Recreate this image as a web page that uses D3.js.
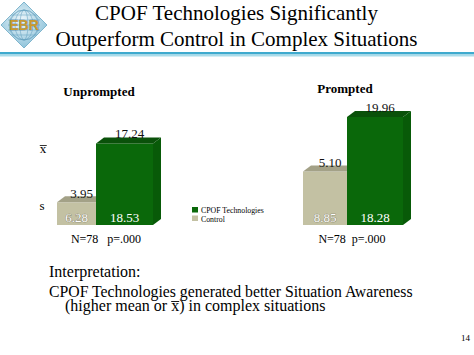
<!DOCTYPE html>
<html>
<head>
<meta charset="utf-8">
<script src="https://cdn.jsdelivr.net/npm/d3@7"></script>
<style>
html,body{margin:0;padding:0;background:#fff;}
svg{display:block;}
</style>
</head>
<body>
<svg id="chart" width="474" height="355" font-family="Liberation Serif"></svg>
<script>
// ---- data ----
const panels = ["Unprompted", "Prompted"];
const seriesNames = ["Control", "CPOF Technologies"];
const controlMean = [3.95, 5.10];
const cpofMean = [17.24, 19.96];
const controlSD = [6.28, 8.85];
const cpofSD = [18.53, 18.28];
// bar heights as drawn in the picture (chart units, estimated)
const controlPlotted = [4.2, 9.9];
const cpofPlotted = [15.1, 20.0];
const sampleN = [78, 78];
const pValue = [".000", ".000"];
const titleLines = ["CPOF Technologies Significantly", "Outperform Control in Complex Situations"];

// ---- layout ----
const SERIF = "Liberation Serif";
const svg = d3.select("#chart");
const W = 474;
const baseY = 225;
const y = d3.scaleLinear().domain([0, 20]).range([baseY, 117]);
const panelX = d3.scaleOrdinal().domain(panels).range([57, 303]);
const controlW = d3.scaleOrdinal().domain(panels).range([39, 44]);
const cpofW = d3.scaleOrdinal().domain(panels).range([57, 56]);
const color = d3.scaleOrdinal().domain(seriesNames).range(["#c3c1a3", "#0a680a"]);
const topColor = d3.scaleOrdinal().domain(seriesNames).range(["#a3a187", "#0a510a"]);
const sideColor = d3.scaleOrdinal().domain(seriesNames).range(["#9e9c82", "#085a08"]);
const DX = 8, DY = 6;

function txt(x, yy, size, s){
  return svg.append("text").attr("x", x).attr("y", yy).attr("font-family", SERIF)
    .attr("font-size", size).attr("fill", "#000").text(s);
}
function fitText(sel, target){
  const fs = parseFloat(sel.attr("font-size"));
  const w = sel.node().getComputedTextLength();
  sel.attr("font-size", (fs * target / w).toFixed(2));
}

// ---- logo ----
const defs = svg.append("defs");
const lg = defs.append("radialGradient").attr("id","globe").attr("cx","45%").attr("cy","40%").attr("r","60%");
lg.append("stop").attr("offset","0%").attr("stop-color","#eef7fb");
lg.append("stop").attr("offset","100%").attr("stop-color","#8fc3da");
const logo = svg.append("g");
const cx = 24, cy = 25, hr = 23;
const diamond = `M${cx},${cy-hr}L${cx+hr},${cy}L${cx},${cy+hr}L${cx-hr},${cy}Z`;
logo.append("path").attr("d", diamond).attr("fill","url(#globe)").attr("stroke","#6aa8c4").attr("stroke-width",0.8);
defs.append("clipPath").attr("id","dclip").append("path").attr("d", diamond);
const grid = logo.append("g").attr("clip-path","url(#dclip)").attr("fill","none").attr("stroke","#5e9dbd").attr("stroke-width",0.5);
grid.append("circle").attr("cx",cx).attr("cy",cy).attr("r",15);
[4,9,14].forEach(rx=>grid.append("ellipse").attr("cx",cx).attr("cy",cy).attr("rx",rx).attr("ry",15));
[-10,-5,0,5,10].forEach(d=>grid.append("line").attr("x1",cx-16).attr("x2",cx+16).attr("y1",cy+d).attr("y2",cy+d));
logo.append("text").attr("x", cx).attr("y", 30).attr("text-anchor","middle")
  .attr("font-family","Liberation Sans").attr("font-weight","bold").attr("font-size",14)
  .attr("fill","#c99a2e").attr("stroke","#3c7aa6").attr("stroke-width",0.5).attr("paint-order","stroke")
  .text("EBR");

// ---- title ----
const t1 = txt(236.5, 20, 21, titleLines[0]).attr("text-anchor","middle");
fitText(t1, 283);
const t2 = txt(236.5, 46, 21, titleLines[1]).attr("text-anchor","middle");
fitText(t2, 362);

// ---- rule under title ----
svg.append("rect").attr("x",0).attr("y",52).attr("width",W).attr("height",2.5).attr("fill","#3eaace");
svg.append("rect").attr("x",0).attr("y",54.5).attr("width",W).attr("height",2).attr("fill","#a9dcea");

// ---- bars ----
function bar3d(g, x0, x1, v, name){
  const yt = y(v), yb = y(0);
  g.append("path").attr("d", `M${x1},${yt}L${x1+DX},${yt-DY}L${x1+DX},${yb-DY}L${x1},${yb}Z`).attr("fill", sideColor(name));
  g.append("rect").attr("x", x0).attr("y", yt).attr("width", x1-x0).attr("height", yb-yt).attr("fill", color(name));
  g.append("path").attr("d", `M${x0},${yt}L${x0+DX},${yt-DY}L${x1+DX},${yt-DY}L${x1},${yt}Z`).attr("fill", topColor(name));
}

const panelTitleY = [96, 93];
const panelTitleX = [99, 345];
panels.forEach((p, i) => {
  const g = svg.append("g");
  const cx0 = panelX(p), cx1 = cx0 + controlW(p);
  const gx0 = cx1, gx1 = gx0 + cpofW(p);
  bar3d(g, cx0, cx1, controlPlotted[i], seriesNames[0]);
  bar3d(g, gx0, gx1, cpofPlotted[i], seriesNames[1]);
  // mean labels on top
  txt((cx0+cx1)/2 + 5, y(controlPlotted[i]) - 4.5, 13, controlMean[i].toFixed(2))
    .attr("text-anchor","middle").attr("fill","#111");
  txt((gx0+gx1)/2 + 5, y(cpofPlotted[i]) - 5, 13, cpofMean[i].toFixed(2))
    .attr("text-anchor","middle").attr("fill","#111");
  // sd labels inside
  txt((cx0+cx1)/2, baseY - 3.5, 13, controlSD[i].toFixed(2))
    .attr("text-anchor","middle").attr("fill","#fff")
    .attr("stroke","#77755e").attr("stroke-width",0.7).attr("paint-order","stroke");
  txt((gx0+gx1)/2, baseY - 3.5, 13, cpofSD[i].toFixed(2))
    .attr("text-anchor","middle").attr("fill","#fff");
  // panel title
  txt(panelTitleX[i], panelTitleY[i], 13, p).attr("text-anchor","middle").attr("font-weight","bold");
  // N / p
  txt(i === 0 ? 106 : 352, 243, 12, `N=${sampleN[i]}` + (i===0?"\u00a0\u00a0\u00a0":"\u00a0\u00a0") + `p=${pValue[i]}`)
    .attr("text-anchor","middle");
});

// row labels x̄ and s
const xl = txt(43, 153, 13, "x").attr("text-anchor","middle");
{ const b = xl.node().getBBox();
  svg.append("line").attr("x1", b.x).attr("x2", b.x + b.width).attr("y1", 145.5).attr("y2", 145.5)
    .attr("stroke","#000").attr("stroke-width",0.8); }
txt(42, 210, 13, "s").attr("text-anchor","middle");

// ---- legend ----
[seriesNames[1], seriesNames[0]].forEach((s, i) => {
  svg.append("rect").attr("x", 192).attr("y", 207 + i*8.5).attr("width", 6).attr("height", 5.5).attr("fill", color(s));
  txt(201, 213 + i*8.5, 7.8, s);
});

// ---- interpretation text ----
txt(49, 277, 16, "Interpretation:");
const l2 = txt(49, 297, 16, "CPOF Technologies generated better Situation Awareness");
fitText(l2, 364);
const pre = "(higher mean or ", post = ") in complex situations";
const l3 = txt(65, 311, 16, pre + "x" + post);
{ const n = l3.node();
  const xs = 65 + n.getSubStringLength(0, pre.length);
  const xw = n.getSubStringLength(pre.length, 1);
  svg.append("line").attr("x1", xs).attr("x2", xs + xw).attr("y1", 301.5).attr("y2", 301.5)
    .attr("stroke","#000").attr("stroke-width",0.9); }
txt(470, 341, 9, "14").attr("text-anchor","end");
</script>
</body>
</html>
